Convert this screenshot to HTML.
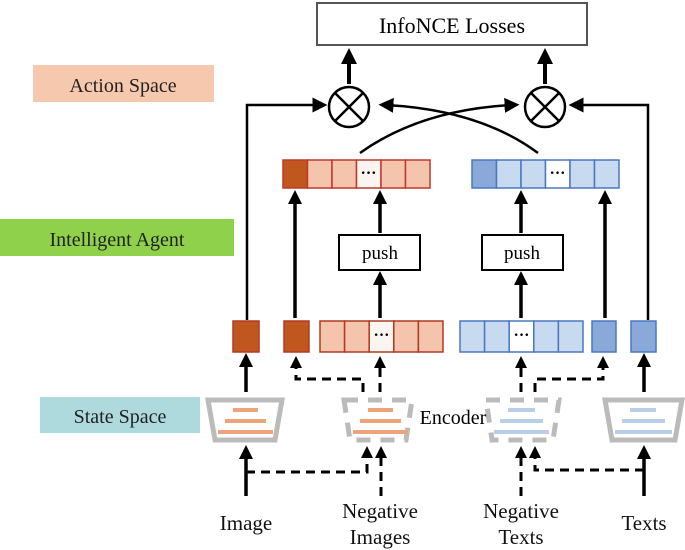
<!DOCTYPE html>
<html><head><meta charset="utf-8"><style>
html,body{margin:0;padding:0;background:#fff;}
svg{display:block;font-family:"Liberation Serif",serif;}
</style></head><body>
<svg width="685" height="550" viewBox="0 0 685 550" xmlns="http://www.w3.org/2000/svg">
<defs>
<marker id="a" markerWidth="4" markerHeight="4" refX="2" refY="2" orient="auto" markerUnits="strokeWidth"><path d="M0,0 L4,2 L0,4 z" fill="#000"/></marker>
<marker id="b" markerWidth="6" markerHeight="6" refX="3" refY="3" orient="auto" markerUnits="strokeWidth"><path d="M0,0 L6,3 L0,6 z" fill="#000"/></marker>
</defs>
<rect x="33" y="65" width="181" height="37" fill="#f6c8ae"/>
<text x="123" y="92" font-size="20" text-anchor="middle" fill="#222">Action Space</text>
<rect x="0" y="219" width="234" height="37" fill="#8fd14b"/>
<text x="117" y="246" font-size="20" text-anchor="middle" fill="#222">Intelligent Agent</text>
<rect x="40" y="397" width="160" height="36" fill="#aedadd"/>
<text x="120" y="423" font-size="20" text-anchor="middle" fill="#222">State Space</text>
<rect x="317" y="3" width="270" height="42" fill="#fff" stroke="#555" stroke-width="2"/>
<text x="452" y="33" font-size="22" text-anchor="middle">InfoNCE  Losses</text>
<g stroke="#000" stroke-width="2.5" fill="none">
<circle cx="349" cy="107" r="20"/><path d="M335,93 L363,121 M363,93 L335,121"/>
<circle cx="545" cy="107" r="20"/><path d="M531,93 L559,121 M559,93 L531,121"/>
</g>
<g stroke="#000" stroke-width="4" fill="none" marker-end="url(#a)">
<line x1="349" y1="84" x2="349" y2="56"/>
<line x1="545" y1="84" x2="545" y2="56"/>
</g>
<g stroke="#000" stroke-width="2.5" fill="none" marker-end="url(#b)">
<path d="M247,320 L247,105 L320,105"/>
<path d="M648,320 L648,105 L576,105"/>
<path d="M360,153 Q420,110 512,105"/>
<path d="M538,153 Q480,110 386,105"/>
</g>
<g stroke="#c0392b" stroke-width="1.5">
<rect x="283" y="160" width="24.5" height="28" fill="#c0571f"/>
<rect x="307.5" y="160" width="24.5" height="28" fill="#f4c4ad"/>
<rect x="332" y="160" width="24.5" height="28" fill="#f4c4ad"/>
<rect x="356.5" y="160" width="24.5" height="28" fill="#fbf5f2"/>
<rect x="381" y="160" width="24.5" height="28" fill="#f4c4ad"/>
<rect x="405.5" y="160" width="24.5" height="28" fill="#f4c4ad"/>
</g>
<g stroke="#4a78c0" stroke-width="1.5">
<rect x="472" y="160" width="24.5" height="28" fill="#8aa8d8"/>
<rect x="496.5" y="160" width="24.5" height="28" fill="#c8daef"/>
<rect x="521" y="160" width="24.5" height="28" fill="#c8daef"/>
<rect x="545.5" y="160" width="24.5" height="28" fill="#fff"/>
<rect x="570" y="160" width="24.5" height="28" fill="#c8daef"/>
<rect x="594.5" y="160" width="24.5" height="28" fill="#c8daef"/>
</g>
<text x="368.5" y="178" font-size="16" text-anchor="middle" font-weight="bold">···</text>
<text x="557.5" y="178" font-size="16" text-anchor="middle" font-weight="bold">···</text>
<rect x="339" y="235" width="81" height="35" fill="#fff" stroke="#000" stroke-width="2"/>
<text x="380" y="259" font-size="19" text-anchor="middle">push</text>
<rect x="482" y="235" width="81" height="35" fill="#fff" stroke="#000" stroke-width="2"/>
<text x="522" y="259" font-size="19" text-anchor="middle">push</text>
<g stroke="#000" stroke-width="3.5" fill="none" marker-end="url(#a)">
<line x1="295" y1="318" x2="295" y2="197"/>
<line x1="380" y1="233" x2="380" y2="197"/>
<line x1="380" y1="318" x2="380" y2="278"/>
<line x1="521" y1="233" x2="521" y2="197"/>
<line x1="521" y1="318" x2="521" y2="278"/>
<line x1="605" y1="318" x2="605" y2="197"/>
</g>
<g stroke="#b03a22" stroke-width="1.5">
<rect x="233" y="321" width="26" height="31" fill="#c0571f"/>
<rect x="284" y="321" width="25" height="31" fill="#c0571f"/>
<rect x="320" y="321" width="24.6" height="31" fill="#f4c4ad"/>
<rect x="344.6" y="321" width="24.6" height="31" fill="#f4c4ad"/>
<rect x="369.2" y="321" width="24.6" height="31" fill="#fbf5f2"/>
<rect x="393.8" y="321" width="24.6" height="31" fill="#f4c4ad"/>
<rect x="418.4" y="321" width="24.6" height="31" fill="#f4c4ad"/>
</g>
<g stroke="#4a78c0" stroke-width="1.5">
<rect x="460" y="321" width="24.6" height="31" fill="#c8daef"/>
<rect x="484.6" y="321" width="24.6" height="31" fill="#c8daef"/>
<rect x="509.2" y="321" width="24.6" height="31" fill="#fff"/>
<rect x="533.8" y="321" width="24.6" height="31" fill="#c8daef"/>
<rect x="558.4" y="321" width="24.6" height="31" fill="#c8daef"/>
<rect x="592" y="321" width="24" height="31" fill="#8aa8d8"/>
<rect x="631" y="321" width="25" height="31" fill="#8aa8d8"/>
</g>
<text x="381.5" y="340" font-size="16" text-anchor="middle" font-weight="bold">···</text>
<text x="521.5" y="340" font-size="16" text-anchor="middle" font-weight="bold">···</text>
<g stroke="#000" stroke-width="3.5" fill="none" marker-end="url(#a)">
<line x1="246" y1="392" x2="246" y2="360"/>
<line x1="644" y1="392" x2="644" y2="360"/>
</g>
<g stroke="#000" stroke-width="3" fill="none" stroke-dasharray="9,6" marker-end="url(#a)">
<line x1="380" y1="392" x2="380" y2="362"/>
<line x1="521" y1="392" x2="521" y2="362"/>
<path d="M363,392 L363,379 L296,379 L296,362"/>
<path d="M535,392 L535,379 L603,379 L603,362"/>
</g>
<g stroke="#bbb" stroke-width="5" fill="#fff">
<path d="M208,400 L282,400 L275,440 L215,440 Z"/>
<path d="M605,400 L682,400 L675,440 L612,440 Z"/>
</g>
<g stroke="#bbb" stroke-width="5" fill="none" stroke-dasharray="14,10">
<path d="M344,400 L412,400 L406,440 L350,440 Z"/>
<path d="M486,400 L559,400 L553,440 L492,440 Z"/>
</g>
<g stroke="#eea47a" stroke-width="4">
<line x1="233" y1="410" x2="258" y2="410"/>
<line x1="225" y1="421" x2="266" y2="421"/>
<line x1="218" y1="432" x2="273" y2="432"/>
<line x1="368" y1="410" x2="393" y2="410"/>
<line x1="360" y1="421" x2="401" y2="421"/>
<line x1="353" y1="432" x2="408" y2="432"/>
</g>
<g stroke="#b9cfe8" stroke-width="4">
<line x1="508" y1="410" x2="535" y2="410"/>
<line x1="500" y1="421" x2="543" y2="421"/>
<line x1="494" y1="432" x2="549" y2="432"/>
<line x1="630" y1="410" x2="656" y2="410"/>
<line x1="622" y1="421" x2="665" y2="421"/>
<line x1="615" y1="432" x2="672" y2="432"/>
</g>
<text x="453" y="424" font-size="20" text-anchor="middle">Encoder</text>
<g stroke="#000" stroke-width="3.5" fill="none" marker-end="url(#a)">
<line x1="246" y1="496" x2="246" y2="452"/>
<line x1="644" y1="496" x2="644" y2="452"/>
</g>
<g stroke="#000" stroke-width="3" fill="none" stroke-dasharray="9,6" marker-end="url(#a)">
<line x1="381" y1="496" x2="381" y2="452"/>
<line x1="521" y1="496" x2="521" y2="452"/>
<path d="M246,472 L367,472 L367,452"/>
<path d="M644,470 L535,470 L535,452"/>
</g>
<g font-size="21" text-anchor="middle" fill="#111">
<text x="246" y="530">Image</text>
<text x="380" y="518">Negative</text>
<text x="380" y="544">Images</text>
<text x="521" y="518">Negative</text>
<text x="521" y="544">Texts</text>
<text x="644" y="530">Texts</text>
</g>
</svg>
</body></html>
